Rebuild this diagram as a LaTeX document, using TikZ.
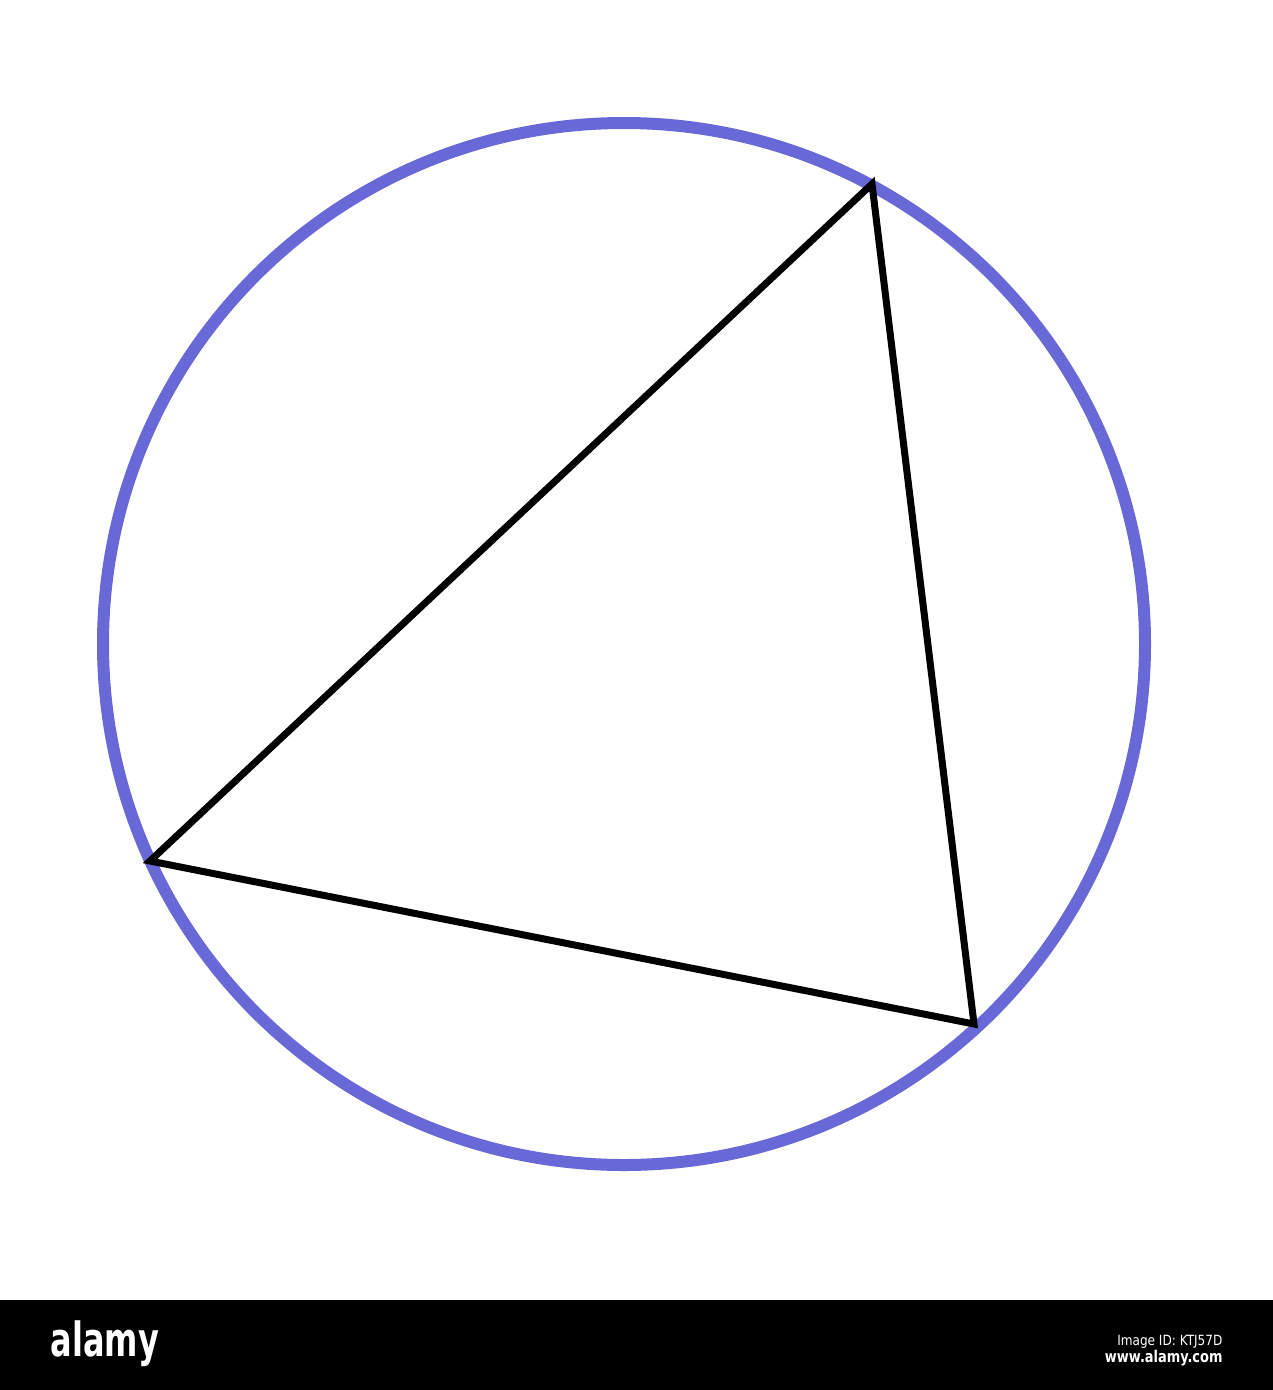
\documentclass[tikz,border=0pt]{standalone}
\usepackage{fontspec}
\newfontfamily\barfont{DejaVu Sans}
\definecolor{rimblue}{RGB}{104,104,214}
\tikzset{
  rim/.style={draw=rimblue, line width=1.2mm},
  side/.style={draw=black, line width=0.7mm, line join=miter},
  bartext/.style={text=white, inner sep=0pt, font=\barfont}
}
\begin{document}
\begin{tikzpicture}[x=0.1mm, y=-0.1mm]
    % 1) Page frame in pixel units
    \useasboundingbox (0,0) rectangle (1273,1390);

    % 2) The circle
    \coordinate (centre) at (624,644);
    \draw[rim] (centre) circle[radius=521];

    % 3) Inscribed triangle
    \coordinate (apex) at (872,184);
    \coordinate (west) at (150,861);
    \coordinate (south) at (974,1024);
    \draw[side] (apex) -- (west) -- (south) -- cycle;

    % 4) Black strip at the foot
    \fill[black] (0,1300) rectangle (1273,1390);
    \node[bartext, anchor=west, xscale=0.68, font=\barfont\bfseries\fontsize{13.4pt}{14pt}\selectfont]
      (brand) at (50,1344) {alamy};
    \node[bartext, anchor=east, xscale=0.86, font=\barfont\fontsize{4pt}{5pt}\selectfont]
      (imgid) at (1223,1342) {Image ID: KTJ57D};
    \node[bartext, anchor=east, xscale=0.8, font=\barfont\bfseries\fontsize{4.6pt}{5pt}\selectfont]
      (site) at (1223,1358) {www.alamy.com};
\end{tikzpicture}
\end{document}
